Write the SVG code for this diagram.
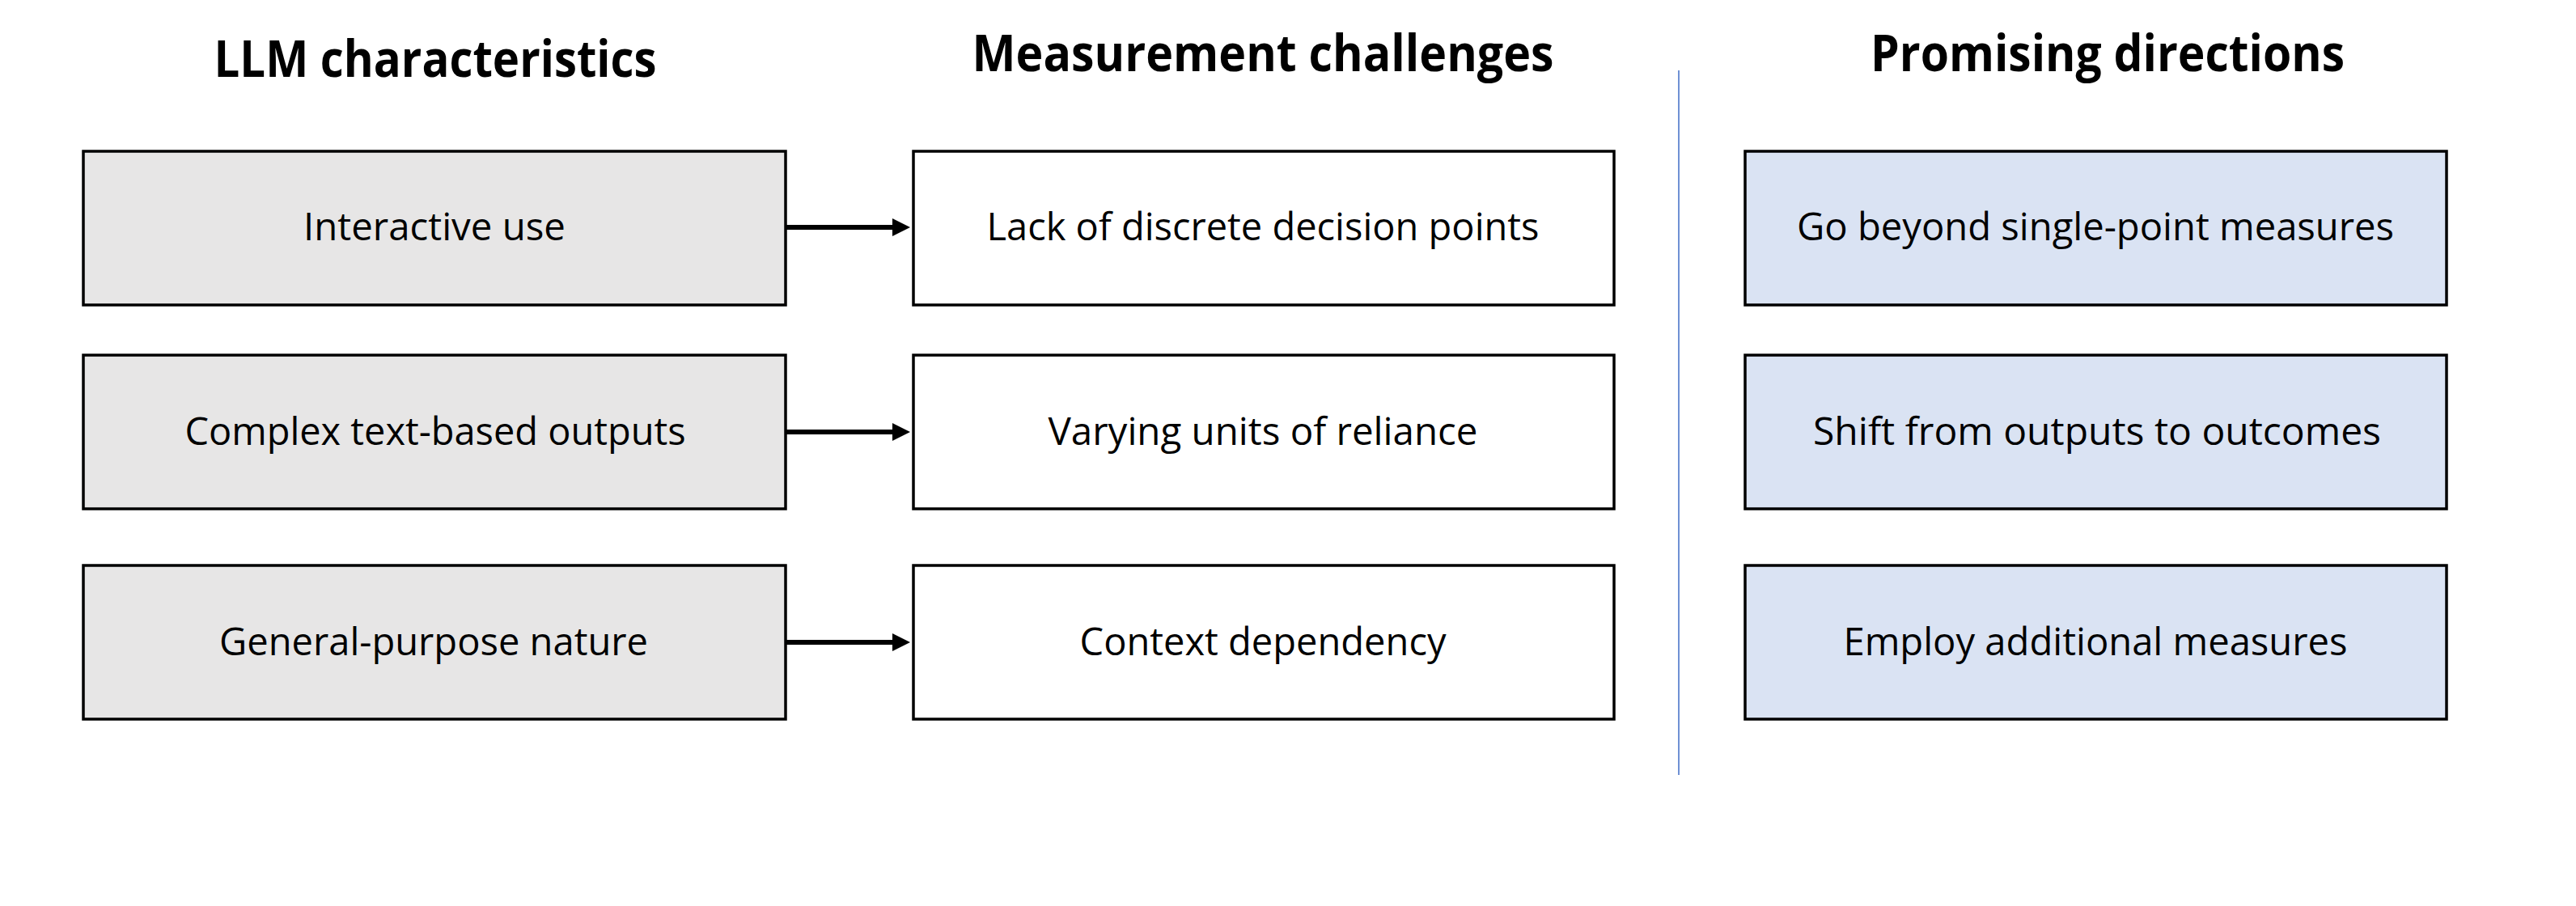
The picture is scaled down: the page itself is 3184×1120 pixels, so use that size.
<svg xmlns="http://www.w3.org/2000/svg" width="3184" height="1120" viewBox="0 0 3184 1120">
  <style>
    .box { stroke: #000; stroke-width: 3.5; }
    .gray { fill: #e7e6e6; }
    .white { fill: #ffffff; }
    .blue { fill: #dae3f3; }
    .label { font-family: "Open Sans", "Liberation Sans", sans-serif; font-size: 47.5px; fill: #000; text-anchor: middle; }
    .title { font-family: "Open Sans", "Liberation Sans", sans-serif; font-size: 62px; font-weight: bold; fill: #000; text-anchor: middle; }
    .conn { stroke: #000; stroke-width: 6; fill: none; }
  </style>
  <defs>
    <marker id="arrow" markerUnits="userSpaceOnUse" markerWidth="22" markerHeight="22" refX="3" refY="11" orient="auto">
      <path d="M0,0 L22,11 L0,22 z" fill="#000"/>
    </marker>
  </defs>
  <rect width="3184" height="1120" fill="#ffffff"/>

  <g id="titles">
    <text class="title" x="538" y="95" textLength="547" lengthAdjust="spacingAndGlyphs">LLM characteristics</text>
    <text class="title" x="1561" y="88" textLength="719" lengthAdjust="spacingAndGlyphs">Measurement challenges</text>
    <text class="title" x="2605" y="88" textLength="586" lengthAdjust="spacingAndGlyphs">Promising directions</text>
  </g>

  <line id="divider" x1="2075" y1="87" x2="2075" y2="958" stroke="#6f91d4" stroke-width="2"/>

  <g id="node-interactive-use">
    <rect class="box gray" x="103" y="187" width="868" height="190"/>
    <text class="label" x="537" y="297" textLength="324" lengthAdjust="spacingAndGlyphs">Interactive use</text>
  </g>
  <g id="node-complex-outputs">
    <rect class="box gray" x="103" y="439" width="868" height="190"/>
    <text class="label" x="538" y="550" textLength="619" lengthAdjust="spacingAndGlyphs">Complex text-based outputs</text>
  </g>
  <g id="node-general-purpose">
    <rect class="box gray" x="103" y="699" width="868" height="190"/>
    <text class="label" x="536" y="810" textLength="530" lengthAdjust="spacingAndGlyphs">General-purpose nature</text>
  </g>

  <g id="node-lack-decision-points">
    <rect class="box white" x="1129" y="187" width="866" height="190"/>
    <text class="label" x="1561" y="297" textLength="683" lengthAdjust="spacingAndGlyphs">Lack of discrete decision points</text>
  </g>
  <g id="node-varying-units">
    <rect class="box white" x="1129" y="439" width="866" height="190"/>
    <text class="label" x="1561" y="550" textLength="531" lengthAdjust="spacingAndGlyphs">Varying units of reliance</text>
  </g>
  <g id="node-context-dependency">
    <rect class="box white" x="1129" y="699" width="866" height="190"/>
    <text class="label" x="1561" y="810" textLength="453" lengthAdjust="spacingAndGlyphs">Context dependency</text>
  </g>

  <g id="node-go-beyond">
    <rect class="box blue" x="2157" y="187" width="867" height="190"/>
    <text class="label" x="2590" y="297" textLength="738" lengthAdjust="spacingAndGlyphs">Go beyond single-point measures</text>
  </g>
  <g id="node-shift-outcomes">
    <rect class="box blue" x="2157" y="439" width="867" height="190"/>
    <text class="label" x="2592" y="550" textLength="702" lengthAdjust="spacingAndGlyphs">Shift from outputs to outcomes</text>
  </g>
  <g id="node-employ-measures">
    <rect class="box blue" x="2157" y="699" width="867" height="190"/>
    <text class="label" x="2590" y="810" textLength="623" lengthAdjust="spacingAndGlyphs">Employ additional measures</text>
  </g>

  <g id="connectors">
    <line class="conn" x1="972" y1="281" x2="1106" y2="281" marker-end="url(#arrow)"/>
    <line class="conn" x1="972" y1="534" x2="1106" y2="534" marker-end="url(#arrow)"/>
    <line class="conn" x1="972" y1="794" x2="1106" y2="794" marker-end="url(#arrow)"/>
  </g>
</svg>
